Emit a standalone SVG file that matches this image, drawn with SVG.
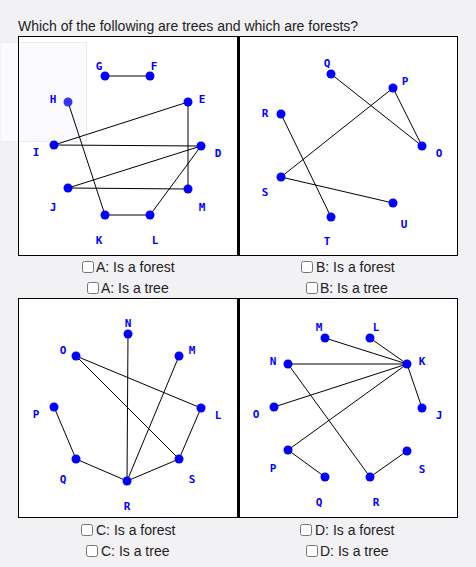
<svg xmlns="http://www.w3.org/2000/svg" width="476" height="567" viewBox="0 0 476 567">
<style>
.bg{fill:#f2f1f4}
.pf{fill:#fff}
.pb{fill:none;stroke:#000;stroke-width:1}
.e line{stroke:#000;stroke-width:1}
.n{fill:#0000ff}
.lb{font-family:"DejaVu Sans Mono","Liberation Mono",monospace;font-weight:bold;font-size:11px;fill:#0000ff;text-anchor:middle}
.t{font-family:"Liberation Sans",Arial,sans-serif;font-size:14px;fill:#222}
.cb{fill:#fff;stroke:#767676;stroke-width:1}
</style>
<rect class="bg" x="0" y="0" width="476" height="567"/>
<text class="t" x="18" y="31">Which of the following are trees and which are forests?</text>
<rect class="pf" x="18.5" y="36.5" width="219" height="219"/>
<rect class="pf" x="238.5" y="36.5" width="219" height="219"/>
<rect class="pf" x="18.5" y="298.5" width="219" height="219"/>
<rect class="pf" x="238.5" y="298.5" width="219" height="219"/>
<rect x="0" y="42.5" width="86.5" height="99" fill="#fbfbfd" stroke="#ebebef" stroke-width="1"/>
<rect class="pb" x="18.5" y="36.5" width="219" height="219"/>
<rect class="pb" x="238.5" y="36.5" width="219" height="219"/>
<rect class="pb" x="18.5" y="298.5" width="219" height="219"/>
<rect class="pb" x="238.5" y="298.5" width="219" height="219"/>
<rect x="237" y="36" width="3" height="220" fill="#000"/>
<rect x="237" y="298" width="3" height="220" fill="#000"/>
<g id="edges" class="e">
<line x1="105" y1="76" x2="150" y2="76"/>
<line x1="68" y1="102" x2="105" y2="215"/>
<line x1="54" y1="145" x2="188" y2="102"/>
<line x1="54" y1="145" x2="201" y2="146"/>
<line x1="68" y1="188" x2="201" y2="146"/>
<line x1="68" y1="188" x2="188" y2="189"/>
<line x1="188" y1="102" x2="188" y2="189"/>
<line x1="201" y1="146" x2="150" y2="215"/>
<line x1="105" y1="215" x2="150" y2="215"/>
<line x1="331" y1="74" x2="422" y2="146"/>
<line x1="393" y1="88" x2="422" y2="146"/>
<line x1="393" y1="88" x2="281" y2="177"/>
<line x1="281" y1="114" x2="331" y2="217"/>
<line x1="281" y1="177" x2="393" y2="203"/>
<line x1="128" y1="334" x2="127" y2="481"/>
<line x1="76" y1="356" x2="201" y2="408"/>
<line x1="76" y1="356" x2="179" y2="459"/>
<line x1="179" y1="356" x2="127" y2="481"/>
<line x1="54" y1="407" x2="76" y2="459"/>
<line x1="76" y1="459" x2="127" y2="481"/>
<line x1="127" y1="481" x2="179" y2="459"/>
<line x1="201" y1="408" x2="179" y2="459"/>
<line x1="325" y1="338" x2="407" y2="364"/>
<line x1="370" y1="338" x2="407" y2="364"/>
<line x1="288" y1="364" x2="407" y2="364"/>
<line x1="274" y1="407" x2="407" y2="364"/>
<line x1="288" y1="450" x2="407" y2="364"/>
<line x1="407" y1="364" x2="422" y2="408"/>
<line x1="288" y1="364" x2="370" y2="477"/>
<line x1="288" y1="450" x2="325" y2="477"/>
<line x1="370" y1="477" x2="407" y2="451"/>
</g>
<g id="graphA">
<g id="A-G"><circle class="n" cx="105" cy="76" r="4.5"/><text class="lb" x="99" y="69.5">G</text></g>
<g id="A-F"><circle class="n" cx="150" cy="76" r="4.5"/><text class="lb" x="154" y="69.5">F</text></g>
<g id="A-H"><circle cx="68" cy="102" r="4.5" fill="#3535f5"/><text class="lb" x="53" y="103">H</text></g>
<g id="A-E"><circle class="n" cx="188" cy="102" r="4.5"/><text class="lb" x="202" y="103">E</text></g>
<g id="A-I"><circle class="n" cx="54" cy="145" r="4.5"/><text class="lb" x="36" y="156">I</text></g>
<g id="A-D"><circle class="n" cx="201" cy="146" r="4.5"/><text class="lb" x="218" y="157">D</text></g>
<g id="A-J"><circle class="n" cx="68" cy="188" r="4.5"/><text class="lb" x="53" y="210.5">J</text></g>
<g id="A-M"><circle class="n" cx="188" cy="189" r="4.5"/><text class="lb" x="202" y="211">M</text></g>
<g id="A-K"><circle class="n" cx="105" cy="215" r="4.5"/><text class="lb" x="99" y="244">K</text></g>
<g id="A-L"><circle class="n" cx="150" cy="215" r="4.5"/><text class="lb" x="155" y="244">L</text></g>
</g>
<g id="graphB">
<g id="B-Q"><circle class="n" cx="331" cy="74" r="4.5"/><text class="lb" x="327" y="67">Q</text></g>
<g id="B-P"><circle class="n" cx="393" cy="88" r="4.5"/><text class="lb" x="405" y="85">P</text></g>
<g id="B-R"><circle class="n" cx="281" cy="114" r="4.5"/><text class="lb" x="265" y="117">R</text></g>
<g id="B-O"><circle class="n" cx="422" cy="146" r="4.5"/><text class="lb" x="439" y="156.5">O</text></g>
<g id="B-S"><circle class="n" cx="281" cy="177" r="4.5"/><text class="lb" x="265" y="196">S</text></g>
<g id="B-U"><circle class="n" cx="393" cy="203" r="4.5"/><text class="lb" x="404" y="227.5">U</text></g>
<g id="B-T"><circle class="n" cx="331" cy="217" r="4.5"/><text class="lb" x="327" y="245">T</text></g>
</g>
<g id="graphC">
<g id="C-N"><circle class="n" cx="128" cy="334" r="4.5"/><text class="lb" x="128" y="327">N</text></g>
<g id="C-O"><circle class="n" cx="76" cy="356" r="4.5"/><text class="lb" x="63" y="354">O</text></g>
<g id="C-M"><circle class="n" cx="179" cy="356" r="4.5"/><text class="lb" x="192" y="354">M</text></g>
<g id="C-P"><circle class="n" cx="54" cy="407" r="4.5"/><text class="lb" x="36" y="418">P</text></g>
<g id="C-L"><circle class="n" cx="201" cy="408" r="4.5"/><text class="lb" x="218" y="419">L</text></g>
<g id="C-Q"><circle class="n" cx="76" cy="459" r="4.5"/><text class="lb" x="63" y="483">Q</text></g>
<g id="C-S"><circle class="n" cx="179" cy="459" r="4.5"/><text class="lb" x="192" y="483">S</text></g>
<g id="C-R"><circle class="n" cx="127" cy="481" r="4.5"/><text class="lb" x="127" y="510">R</text></g>
</g>
<g id="graphD">
<g id="D-M"><circle class="n" cx="325" cy="338" r="4.5"/><text class="lb" x="319" y="330.5">M</text></g>
<g id="D-L"><circle class="n" cx="370" cy="338" r="4.5"/><text class="lb" x="376" y="330.5">L</text></g>
<g id="D-N"><circle class="n" cx="288" cy="364" r="4.5"/><text class="lb" x="273" y="365">N</text></g>
<g id="D-K"><circle class="n" cx="407" cy="364" r="4.5"/><text class="lb" x="422" y="365">K</text></g>
<g id="D-O"><circle class="n" cx="274" cy="407" r="4.5"/><text class="lb" x="256" y="418">O</text></g>
<g id="D-J"><circle class="n" cx="422" cy="408" r="4.5"/><text class="lb" x="439" y="418.5">J</text></g>
<g id="D-P"><circle class="n" cx="288" cy="450" r="4.5"/><text class="lb" x="273" y="471.5">P</text></g>
<g id="D-S"><circle class="n" cx="407" cy="451" r="4.5"/><text class="lb" x="422" y="473">S</text></g>
<g id="D-Q"><circle class="n" cx="325" cy="477" r="4.5"/><text class="lb" x="319" y="506">Q</text></g>
<g id="D-R"><circle class="n" cx="370" cy="477" r="4.5"/><text class="lb" x="376" y="506">R</text></g>
</g>
<g id="options">
<rect class="cb" x="82.5" y="261.5" width="11" height="11" rx="2"/><text class="t" x="96" y="272">A: Is a forest</text>
<rect class="cb" x="87.5" y="282.5" width="11" height="11" rx="2"/><text class="t" x="101" y="293">A: Is a tree</text>
<rect class="cb" x="301.5" y="261.5" width="11" height="11" rx="2"/><text class="t" x="316" y="272">B: Is a forest</text>
<rect class="cb" x="306.5" y="282.5" width="11" height="11" rx="2"/><text class="t" x="320" y="293">B: Is a tree</text>
<rect class="cb" x="81.5" y="524.5" width="11" height="11" rx="2"/><text class="t" x="96" y="535">C: Is a forest</text>
<rect class="cb" x="86.5" y="545.5" width="11" height="11" rx="2"/><text class="t" x="101" y="556">C: Is a tree</text>
<rect class="cb" x="300.5" y="524.5" width="11" height="11" rx="2"/><text class="t" x="315" y="535">D: Is a forest</text>
<rect class="cb" x="306.5" y="545.5" width="11" height="11" rx="2"/><text class="t" x="320" y="556">D: Is a tree</text>
</g>
</svg>
